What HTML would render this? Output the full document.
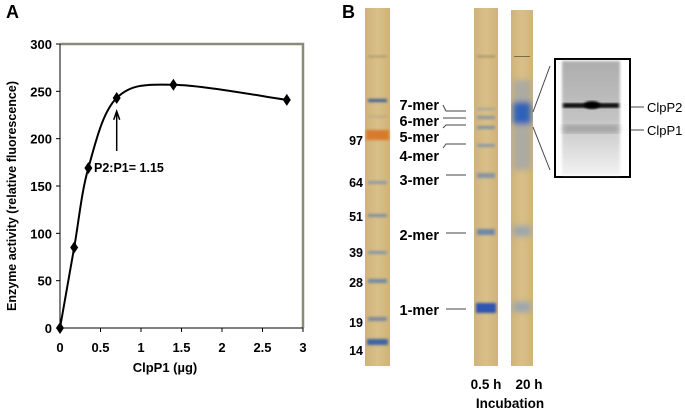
<!DOCTYPE html>
<html><head><meta charset="utf-8"><style>
body{margin:0;background:#fff;}
svg{display:block;font-family:"Liberation Sans",sans-serif;}
</style></head><body>
<svg width="685" height="411" viewBox="0 0 685 411">
<defs>
<linearGradient id="gel" x1="0" x2="1"><stop offset="0" stop-color="#cfb37a"/><stop offset="0.5" stop-color="#d9bf88"/><stop offset="1" stop-color="#cfb37a"/></linearGradient>
<linearGradient id="inset" x1="0" y1="0" x2="0" y2="1"><stop offset="0" stop-color="#9a9a9a"/><stop offset="0.5" stop-color="#b4b4b4"/><stop offset="1" stop-color="#f0f0f0"/></linearGradient>
<filter id="blur"><feGaussianBlur stdDeviation="1.2"/></filter>
<filter id="blur2"><feGaussianBlur stdDeviation="3"/></filter>
</defs>
<text x="6" y="18" font-size="18" font-weight="bold">A</text>
<g id="chart"></g>
<text x="342" y="18" font-size="18" font-weight="bold">B</text>
<g>
<rect x="365" y="8" width="25" height="358" fill="url(#gel)"/>
<g filter="url(#blur)">
<rect x="368" y="56" width="19" height="1" fill="#8a7a60"/>
<rect x="368" y="99" width="19" height="3" fill="#3b5f94"/>
<rect x="368" y="116" width="19" height="1" fill="#a99c84"/>
<rect x="366" y="130" width="23" height="10" fill="#d77a2e"/>
<rect x="368" y="181" width="19" height="3" fill="#8c9aa6"/>
<rect x="368" y="214" width="19" height="3" fill="#7d8fa3"/>
<rect x="368" y="251" width="19" height="3" fill="#8596a4"/>
<rect x="368" y="279" width="19" height="4" fill="#708aa0"/>
<rect x="368" y="317" width="19" height="4" fill="#7d8a9c"/>
<rect x="367" y="339" width="21" height="6" fill="#3d64a6"/>
</g>
</g>
<g>
<rect x="474" y="8" width="24" height="358" fill="url(#gel)"/>
<g filter="url(#blur)">
<rect x="477" y="56" width="18" height="1" fill="#7a6a50"/>
<rect x="477" y="108" width="18" height="2" fill="#a0a2a0"/>
<rect x="477" y="116" width="18" height="3" fill="#8a96a0"/>
<rect x="477" y="126" width="18" height="3" fill="#7f90a2"/>
<rect x="477" y="144" width="18" height="3" fill="#8a98a4"/>
<rect x="477" y="173" width="18" height="5" fill="#8494a4"/>
<rect x="477" y="229" width="18" height="6" fill="#6f88a6"/>
<rect x="476" y="303" width="20" height="10" fill="#2d55b0"/>
</g>
</g>
<g>
<rect x="511" y="10" width="22" height="356" fill="url(#gel)"/>
<g filter="url(#blur2)">
<rect x="513" y="80" width="18" height="90" fill="#9aa4ac" opacity="0.7"/>
<rect x="513" y="102" width="18" height="22" fill="#2e62b8"/>
<rect x="513" y="226" width="18" height="10" fill="#9aa6ae"/>
<rect x="513" y="302" width="18" height="10" fill="#9aa6ae"/>
</g>
<rect x="514" y="56" width="16" height="1" fill="#7a6a50"/>
</g>
<g font-size="12.5" font-weight="bold" text-anchor="end">
<text x="363" y="145">97</text><text x="363" y="187">64</text><text x="363" y="221">51</text>
<text x="363" y="257">39</text><text x="363" y="287">28</text><text x="363" y="327">19</text><text x="363" y="355">14</text>
</g>
<g font-size="14.5" font-weight="bold" text-anchor="end">
<text x="439" y="110">7-mer</text><text x="439" y="126">6-mer</text><text x="439" y="142">5-mer</text>
<text x="439" y="161">4-mer</text><text x="439" y="185">3-mer</text><text x="439" y="240">2-mer</text><text x="439" y="315">1-mer</text>
</g>
<g stroke="#444" stroke-width="1" fill="none">
<polyline points="443,105 446,111 466,111"/><line x1="443" y1="118" x2="466" y2="118"/>
<polyline points="443,128 446,125 466,125"/><polyline points="443,148 446,144 466,144"/>
<line x1="446" y1="175" x2="466" y2="175"/><line x1="446" y1="233" x2="466" y2="233"/>
<line x1="446" y1="309" x2="466" y2="309"/>
<line x1="533" y1="112" x2="550" y2="66"/><line x1="533" y1="127" x2="550" y2="170"/>
<line x1="630" y1="107" x2="644" y2="107"/><line x1="630" y1="130" x2="644" y2="130"/>
</g>
<g>
<rect x="555" y="59" width="75" height="118" fill="#fff" stroke="#000" stroke-width="2"/>
<rect x="562" y="61" width="58" height="114" fill="url(#inset)" opacity="0.8" filter="url(#blur)"/>
<rect x="563" y="103" width="56" height="5" fill="#111" filter="url(#blur)"/>
<ellipse cx="592" cy="105" rx="8" ry="4" fill="#000" filter="url(#blur)"/>
<rect x="563" y="125" width="56" height="8" fill="#777" opacity="0.5" filter="url(#blur2)"/>
</g>
<g font-size="13">
<text x="647" y="112">ClpP2</text><text x="647" y="135">ClpP1</text>
</g>
<g font-size="13.5" font-weight="bold" text-anchor="middle">
<text x="486" y="389">0.5 h</text><text x="529" y="389">20 h</text><text x="510" y="408">Incubation</text>
</g>
</svg>
<script>
const xVals=[0,0.175,0.35,0.7,1.4,2.8];
const yVals=[0,85,169,243,257,241];
const xTicks=["0","0.5","1","1.5","2","2.5","3"];
const yTicks=["0","50","100","150","200","250","300"];
const NS="http://www.w3.org/2000/svg";
const L=60,R=303,T=44,B=328;
const sx=v=>L+(v/3)*(R-L), sy=v=>B-(v/300)*(B-T);
const g=document.getElementById('chart');
function mk(t,a,p){const e=document.createElementNS(NS,t);for(const k in a)e.setAttribute(k,a[k]);(p||g).appendChild(e);return e;}
let frame=mk('path',{d:`M${L},${T}H${R}V${B}`,fill:'none',stroke:'#8a8a78','stroke-width':2.5});


let ya=mk('line',{x1:L,y1:T,x2:L,y2:B,stroke:'#000','stroke-width':1});


let xa=mk('line',{x1:L,y1:B,x2:R,y2:B,stroke:'#000','stroke-width':1});


yTicks.forEach(t=>{const y=sy(+t);
 mk('line',{x1:L-4,y1:y,x2:L,y2:y,stroke:'#000'});
 const e=mk('text',{x:L-8,y:y+5,'font-size':13,'font-weight':'bold','text-anchor':'end'});e.textContent=t;
 
 });
xTicks.forEach(t=>{const x=sx(+t);
 mk('line',{x1:x,y1:B,x2:x,y2:B+4,stroke:'#000'});
 const e=mk('text',{x:x,y:B+24,'font-size':13,'font-weight':'bold','text-anchor':'middle'});e.textContent=t;
 
 });
const pts=xVals.map((v,i)=>[sx(v),sy(yVals[i])]);
let d=`M${pts[0][0]},${pts[0][1]}`;
for(let i=0;i<pts.length-1;i++){const p0=pts[i-1]||pts[i],p1=pts[i],p2=pts[i+1],p3=pts[i+2]||p2;
 d+=`C${p1[0]+(p2[0]-p0[0])/6},${p1[1]+(p2[1]-p0[1])/6} ${p2[0]-(p3[0]-p1[0])/6},${p2[1]-(p3[1]-p1[1])/6} ${p2[0]},${p2[1]}`;}
let ln=mk('path',{d:d,fill:'none',stroke:'#000','stroke-width':2});


pts.forEach(p=>{let m=mk('path',{d:`M${p[0]},${p[1]-6}L${p[0]+4},${p[1]}L${p[0]},${p[1]+6}L${p[0]-4},${p[1]}Z`,fill:'#000'});
 
 });
let ar=mk('path',{d:`M${sx(0.7)},${sy(187)}V${sy(228)}M${sx(0.7)-3},${sy(220)}L${sx(0.7)},${sy(229)}L${sx(0.7)+3},${sy(220)}`,fill:'none',stroke:'#000','stroke-width':1.5});


let an=mk('text',{x:94,y:172,'font-size':12.5,'font-weight':'bold'});an.textContent='P2:P1= 1.15';


let xt=mk('text',{x:165,y:372,'font-size':13,'font-weight':'bold','text-anchor':'middle'});xt.textContent='ClpP1  (\u00b5g)';


let yt=mk('text',{x:0,y:0,'font-size':12.5,'font-weight':'bold','text-anchor':'middle',transform:`translate(16,${(T+B)/2+10}) rotate(-90)`});yt.textContent='Enzyme  activity (relative fluorescence)';


</script>
</body></html>
